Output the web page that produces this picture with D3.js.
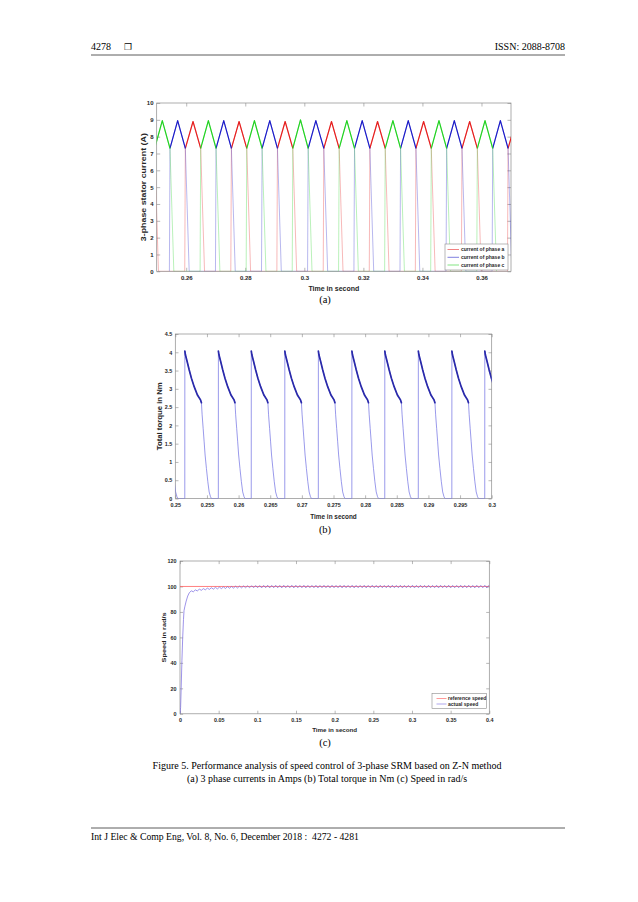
<!DOCTYPE html>
<html>
<head>
<meta charset="utf-8">
<script src="https://cdn.jsdelivr.net/npm/d3@7"></script>
<style>
  body { margin: 0; background: #fff; }
  svg { display: block; }
</style>
</head>
<body>
<svg id="page" width="638" height="902"></svg>
<script>
// ---------- (a) 3-phase stator currents ----------
const currentTicksX = [0.26, 0.28, 0.3, 0.32, 0.34, 0.36];
const currentTicksY = [0, 1, 2, 3, 4, 5, 6, 7, 8, 9, 10];
const phaseNames = ["a", "b", "c"];
const phaseLabels = ["current of phase a", "current of phase b", "current of phase c"];
// one entry per conduction pulse
const pulsePhase = ["a", "c", "b", "a", "c", "b", "a", "c", "b", "a", "c", "b", "a",
                    "c", "b", "a", "c", "b", "a", "c", "b", "a", "c", "b", "a"];
const pulseOn = [0.2439, 0.2491, 0.2543, 0.2595, 0.2647, 0.2699, 0.2751, 0.2803, 0.2855,
                 0.2907, 0.2959, 0.3011, 0.3064, 0.3116, 0.3168, 0.3220, 0.3272, 0.3324,
                 0.3376, 0.3428, 0.3480, 0.3532, 0.3584, 0.3636, 0.3688];
// commutation instants (current of both phases at the valley level)
const commutationT = [0.2441, 0.2493, 0.2545, 0.2597, 0.2649, 0.2701, 0.2753, 0.2805, 0.2857,
                      0.2909, 0.2961, 0.3013, 0.3066, 0.3118, 0.3170, 0.3222, 0.3274, 0.3326,
                      0.3378, 0.3430, 0.3482, 0.3534, 0.3586, 0.3638, 0.3690, 0.3742];
const pulsePeakT = [0.2467, 0.2519, 0.2571, 0.2623, 0.2675, 0.2727, 0.2779, 0.2831, 0.2883,
                    0.2935, 0.2987, 0.3039, 0.3092, 0.3144, 0.3196, 0.3248, 0.3300, 0.3352,
                    0.3404, 0.3456, 0.3508, 0.3560, 0.3612, 0.3664, 0.3716];
const pulsePeakA = [8.9, 8.95, 8.95, 8.9, 8.95, 8.95, 8.9, 8.95, 8.95, 8.9, 9.0, 8.95, 8.9,
                    8.95, 8.95, 8.9, 8.95, 8.95, 8.9, 8.95, 8.95, 8.9, 8.95, 8.95, 8.9];
const pulseOff = [0.2506, 0.2558, 0.2610, 0.2662, 0.2714, 0.2766, 0.2818, 0.2870, 0.2922,
                  0.2974, 0.3026, 0.3079, 0.3131, 0.3183, 0.3235, 0.3287, 0.3339, 0.3391,
                  0.3443, 0.3495, 0.3547, 0.3599, 0.3651, 0.3703, 0.3755];
const valleyA = 7.3;

// ---------- (b) total torque ----------
const torqueTicksX = [0.25, 0.255, 0.26, 0.265, 0.27, 0.275, 0.28, 0.285, 0.29, 0.295, 0.3];
const torqueTicksY = [0, 0.5, 1, 1.5, 2, 2.5, 3, 3.5, 4, 4.5];
const torqueCycleT = [0.2462, 0.2515, 0.2568, 0.2620, 0.2673, 0.2726, 0.2779, 0.2831,
                      0.2884, 0.2937, 0.2989];
// shape of one torque cycle, read from the first full cycle
const torqueShapeDt = [0, 0.00001, 0.0001, 0.00037, 0.00069, 0.00105, 0.00148, 0.0020,
                       0.00248, 0.00263, 0.00274, 0.0029, 0.00306, 0.00321, 0.00342,
                       0.00364, 0.00385, 0.00406, 0.00421];
const torqueShapeNm = [0, 4.03, 3.93, 3.75, 3.52, 3.29, 3.06, 2.83, 2.70, 2.62, 2.29, 1.92,
                       1.55, 1.19, 0.82, 0.46, 0.18, 0.05, 0];

// ---------- (c) speed ----------
const speedTicksX = [0, 0.05, 0.1, 0.15, 0.2, 0.25, 0.3, 0.35, 0.4];
const speedTicksY = [0, 20, 40, 60, 80, 100, 120];
const speedLabels = ["reference speed", "actual speed"];
const refSpeedT = [0, 0.4];
const refSpeedV = [100, 100];
const riseT = [0, 0.0008, 0.0015, 0.0025, 0.0035, 0.0045, 0.0052, 0.0062, 0.008, 0.010, 0.012];
const riseV = [0, 5, 20, 42, 60, 74, 81, 84, 88.5, 92.5, 95];
const rippleT0 = 0.0146;   // first ripple extreme
const rippleStep = 0.0026; // half ripple period
const rippleV = [
  96.6, 95.8, 97.3, 96.5, 97.9, 97.0,
  98.3, 97.4, 98.7, 97.7, 99.0, 97.9,
  99.3, 98.1, 99.5, 98.3, 99.7, 98.4,
  99.9, 98.6, 100.0, 98.7, 100.2, 98.8,
  100.3, 98.9, 100.4, 99.0, 100.5, 99.0,
  100.6, 99.0, 100.7, 99.0, 100.7, 98.9,
  100.8, 99.0, 100.9, 98.9, 100.8, 99.0, 100.9, 99.0, 100.8, 98.9, 100.9, 99.0,
  100.8, 99.0, 100.9, 98.9, 100.9, 99.0, 100.8, 99.0, 100.9, 98.9, 100.8, 99.0,
  100.8, 99.0, 100.9, 98.9, 100.8, 99.0, 100.9, 99.0, 100.8, 98.9, 100.9, 99.0,
  100.8, 99.0, 100.9, 98.9, 100.9, 99.0, 100.8, 99.0, 100.9, 98.9, 100.8, 99.0,
  100.8, 99.0, 100.9, 98.9, 100.8, 99.0, 100.9, 99.0, 100.8, 98.9, 100.9, 99.0,
  100.8, 99.0, 100.9, 98.9, 100.9, 99.0, 100.8, 99.0, 100.9, 98.9, 100.8, 99.0,
  100.8, 99.0, 100.9, 98.9, 100.8, 99.0, 100.9, 99.0, 100.8, 98.9, 100.9, 99.0,
  100.8, 99.0, 100.9, 98.9, 100.9, 99.0, 100.8, 99.0, 100.9, 98.9, 100.8, 99.0,
  100.8, 99.0, 100.9, 98.9, 100.8, 99.0, 100.9, 99.0, 100.8, 98.9, 100.9, 99.0,
  100.8, 99.0, 100.9, 98.9, 100.8, 99.0
];

// ---------- drawing ----------
const svg = d3.select("#page");
const sans = '"Liberation Sans", Arial, Helvetica, sans-serif';
const serif = '"Liberation Serif", "Times New Roman", serif';

const phaseColor = {a: "#e62020", b: "#1c1cc8", c: "#22d222"};

function makeAxes(p) {
  const x = d3.scaleLinear().domain(p.xDomain).range([p.left, p.right]);
  const y = d3.scaleLinear().domain(p.yDomain).range([p.bottom, p.top]);
  const g = svg.append("g");

  svg.append("clipPath").attr("id", "clip-" + p.id)
    .append("rect")
    .attr("x", p.left).attr("y", p.top)
    .attr("width", p.right - p.left).attr("height", p.bottom - p.top);

  const styleAxis = sel => {
    sel.select(".domain").remove();
    sel.selectAll(".tick line").attr("stroke", "#888").attr("stroke-width", 0.6);
    sel.selectAll("text")
      .attr("font-family", sans).attr("font-weight", "bold")
      .attr("font-size", p.tickFont).attr("fill", "#262626");
  };
  const fmt = d => String(d);

  g.append("g").attr("transform", "translate(0," + p.bottom + ")")
    .call(d3.axisBottom(x).tickValues(p.xTicks).tickFormat(fmt).tickSize(-p.tick).tickPadding(p.xPad))
    .call(styleAxis);
  g.append("g").attr("transform", "translate(0," + p.top + ")")
    .call(d3.axisTop(x).tickValues(p.xTicks).tickFormat("").tickSize(-p.tick))
    .call(styleAxis);
  g.append("g").attr("transform", "translate(" + p.left + ",0)")
    .call(d3.axisLeft(y).tickValues(p.yTicks).tickFormat(fmt).tickSize(-p.tick).tickPadding(p.yPad))
    .call(styleAxis);
  g.append("g").attr("transform", "translate(" + p.right + ",0)")
    .call(d3.axisRight(y).tickValues(p.yTicks).tickFormat("").tickSize(-p.tick))
    .call(styleAxis);

  g.append("rect")
    .attr("x", p.left).attr("y", p.top)
    .attr("width", p.right - p.left).attr("height", p.bottom - p.top)
    .attr("fill", "none").attr("stroke", "#8a8a8a").attr("stroke-width", 0.7);

  g.append("text")
    .attr("x", (p.left + p.right) / 2).attr("y", p.xLabelY)
    .attr("text-anchor", "middle")
    .attr("font-family", sans).attr("font-weight", "bold")
    .attr("font-size", p.labelFont).attr("fill", "#262626")
    .text("Time in second");

  g.append("text")
    .attr("transform", "translate(" + p.yLabelX + "," + ((p.top + p.bottom) / 2) + ") rotate(-90)")
    .attr("text-anchor", "middle")
    .attr("font-family", sans).attr("font-weight", "bold")
    .attr("font-size", p.labelFont).attr("fill", "#262626")
    .attr("textLength", p.yLabelLen).attr("lengthAdjust", "spacingAndGlyphs")
    .text(p.yLabel);

  const plot = g.append("g").attr("clip-path", "url(#clip-" + p.id + ")");
  return {x: x, y: y, g: g, plot: plot};
}

function legend(g, box, labels, colors) {
  const lg = g.append("g");
  lg.append("rect")
    .attr("x", box.x).attr("y", box.y).attr("width", box.w).attr("height", box.h)
    .attr("fill", "#fff").attr("stroke", "#8a8a8a").attr("stroke-width", 0.6);
  labels.forEach(function(lab, i) {
    const yy = box.rows[i];
    lg.append("line")
      .attr("x1", box.lineX0).attr("x2", box.lineX1).attr("y1", yy).attr("y2", yy)
      .attr("stroke", colors[i]).attr("stroke-width", 0.7).attr("opacity", 0.8);
    lg.append("text")
      .attr("x", box.textX).attr("y", yy).attr("dy", "0.35em")
      .attr("font-family", sans).attr("font-weight", "bold")
      .attr("font-size", box.font).attr("fill", "#262626")
      .text(lab);
  });
}

// ---- page header / footer ----
svg.append("text").attr("x", 91).attr("y", 50)
  .attr("font-family", serif).attr("font-size", 10).text("4278");
svg.append("text").attr("x", 124).attr("y", 50)
  .attr("font-family", '"DejaVu Sans", sans-serif').attr("font-size", 9).text("\u2750");
svg.append("text").attr("x", 565).attr("y", 50).attr("text-anchor", "end")
  .attr("font-family", serif).attr("font-size", 10).text("ISSN: 2088-8708");
svg.append("line").attr("x1", 91).attr("x2", 565).attr("y1", 55).attr("y2", 55)
  .attr("stroke", "#333").attr("stroke-width", 0.8);

svg.append("line").attr("x1", 91).attr("x2", 565).attr("y1", 828).attr("y2", 828)
  .attr("stroke", "#333").attr("stroke-width", 0.8);
svg.append("text").attr("x", 91).attr("y", 840)
  .attr("font-family", serif).attr("font-size", 9.7).style("white-space", "pre")
  .text("Int J Elec & Comp Eng, Vol. 8, No. 6, December 2018 :  4272 - 4281");

svg.append("text").attr("x", 327).attr("y", 769).attr("text-anchor", "middle")
  .attr("font-family", serif).attr("font-size", 10)
  .text("Figure 5. Performance analysis of speed control of 3-phase SRM based on Z-N method");
svg.append("text").attr("x", 327).attr("y", 782).attr("text-anchor", "middle")
  .attr("font-family", serif).attr("font-size", 10)
  .text("(a) 3 phase currents in Amps (b) Total torque in Nm (c) Speed in rad/s");

[["(a)", 303], ["(b)", 533], ["(c)", 746]].forEach(function(s) {
  svg.append("text").attr("x", 325).attr("y", s[1]).attr("text-anchor", "middle")
    .attr("font-family", serif).attr("font-size", 10.5).text(s[0]);
});

// ---- panel (a) ----
const A = makeAxes({
  id: "a", left: 156.7, right: 511, top: 103, bottom: 271.3,
  xDomain: [0.25, 0.37], yDomain: [0, 10], xTicks: currentTicksX, yTicks: currentTicksY,
  tick: 3.5, tickFont: 6, xPad: 4.6, yPad: 3.2,
  xLabelY: 291, labelFont: 7, yLabelX: 145.8, yLabelLen: 108,
  yLabel: "3-phase stator current (A)"
});

const lineXY = d3.line().x(d => A.x(d[0])).y(d => A.y(d[1]));

phaseNames.forEach(function(ph) {
  const pts = [];
  const tops = [];
  pulsePhase.forEach(function(p, k) {
    if (p !== ph) return;
    const tri = [[commutationT[k], valleyA], [pulsePeakT[k], pulsePeakA[k]], [commutationT[k + 1], valleyA]];
    pts.push([pulseOn[k], 0], tri[0], tri[1], tri[2], [pulseOff[k], 0]);
    tops.push(tri);
  });
  A.plot.append("path").datum(pts)
    .attr("d", lineXY).attr("fill", "none")
    .attr("stroke", phaseColor[ph]).attr("stroke-width", 0.7).attr("opacity", 0.45);
  A.plot.selectAll(null).data(tops).enter().append("path")
    .attr("d", lineXY).attr("fill", "none")
    .attr("stroke", phaseColor[ph]).attr("stroke-width", 1.2)
    .attr("stroke-linejoin", "round");
});

legend(A.g, {x: 445, y: 244, w: 63, h: 26, rows: [249.5, 257.3, 265],
             lineX0: 447.5, lineX1: 459, textX: 461, font: 5},
       phaseLabels, phaseNames.map(p => phaseColor[p]));

// ---- panel (b) ----
const B = makeAxes({
  id: "b", left: 175.3, right: 491.7, top: 334, bottom: 498.5,
  xDomain: [0.25, 0.3], yDomain: [0, 4.5], xTicks: torqueTicksX, yTicks: torqueTicksY,
  tick: 3.2, tickFont: 5.4, xPad: 4.3, yPad: 3,
  xLabelY: 519, labelFont: 6.4, yLabelX: 161.5, yLabelLen: 68,
  yLabel: "Total torque in Nm"
});

const torqueLine = d3.line().x(d => B.x(d[0])).y(d => B.y(d[1]));
const torquePts = [];
const torqueHeads = [];
torqueCycleT.forEach(function(t0) {
  const cyc = torqueShapeDt.map((dt, i) => [t0 + dt, torqueShapeNm[i]]);
  cyc.forEach(c => torquePts.push(c));
  torqueHeads.push(cyc.slice(1, 10));
});
B.plot.append("path").datum(torquePts)
  .attr("d", torqueLine).attr("fill", "none")
  .attr("stroke", "#6e6ee2").attr("stroke-width", 0.7);
B.plot.selectAll(null).data(torqueHeads).enter().append("path")
  .attr("d", torqueLine).attr("fill", "none")
  .attr("stroke", "#2a2aaa").attr("stroke-width", 1.7).attr("stroke-linecap", "round");

// ---- panel (c) ----
const C = makeAxes({
  id: "c", left: 180, right: 489.3, top: 561, bottom: 713.8,
  xDomain: [0, 0.4], yDomain: [0, 120], xTicks: speedTicksX, yTicks: speedTicksY,
  tick: 3.1, tickFont: 5.4, xPad: 4.3, yPad: 3.5,
  xLabelY: 731.5, labelFont: 6.2, yLabelX: 165.8, yLabelLen: 50,
  yLabel: "Speed in rad/s"
});

const speedLine = d3.line().x(d => C.x(d[0])).y(d => C.y(d[1]));
C.plot.append("path").datum(refSpeedT.map((t, i) => [t, refSpeedV[i]]))
  .attr("d", speedLine).attr("fill", "none")
  .attr("stroke", "#ff4a4a").attr("stroke-width", 0.7);
const actual = riseT.map((t, i) => [t, riseV[i]])
  .concat(rippleV.map((v, i) => [rippleT0 + i * rippleStep, v]));
C.plot.append("path").datum(actual)
  .attr("d", speedLine).attr("fill", "none")
  .attr("stroke", "#7466e0").attr("stroke-width", 0.7);

legend(C.g, {x: 432, y: 693.5, w: 54.5, h: 15, rows: [698.5, 704],
             lineX0: 436.5, lineX1: 446.5, textX: 448, font: 5},
       speedLabels, ["#ff4a4a", "#7466e0"]);
</script>
</body>
</html>
